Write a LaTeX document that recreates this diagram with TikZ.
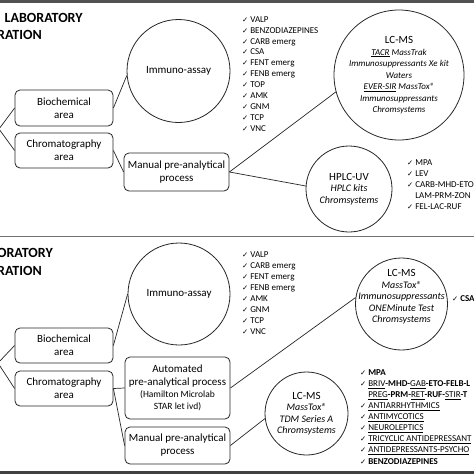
\documentclass[tikz,border=0pt]{standalone}
\usepackage{fontspec}
\setmainfont{Carlito}
\newfontfamily\symf{DejaVu Sans}
\newcommand\ck{{\symf\fontsize{7.3}{7}\selectfont ✓}\hspace{2pt}}
\newcommand\subf{\fontsize{9}{11.3}\selectfont\itshape}
\newcommand\subg{\fontsize{10}{11.3}\selectfont\itshape}
\begin{document}
\begin{tikzpicture}[x=1pt,y=-1pt,
 bx/.style={draw=black!85, rounded corners=5pt, line width=0.8pt, align=center, font=\fontsize{11}{13}\selectfont, inner sep=0pt},
 cir/.style={draw=black!85, circle, line width=0.8pt, align=center, inner sep=0pt, font=\fontsize{11}{13}\selectfont},
 lbl/.style={align=center, inner sep=0pt, font=\fontsize{11}{13}\selectfont},
 cn/.style={line width=0.7pt, draw=black!85},
 it/.style={anchor=west, inner sep=0pt, font=\fontsize{9}{10.9}\selectfont, text height=6pt, text depth=1.5pt},
 ttl/.style={font=\fontsize{14}{16}\selectfont\bfseries, inner sep=0pt, text height=9.5pt, text depth=0pt}
]
\useasboundingbox (0,0) rectangle (474,474);
\clip (0,0) rectangle (474,474);
\fill[white] (0,0) rectangle (474,474);
% frame bands
\fill[black!68] (0,0) rectangle (474,2.7);
\draw[black!55, line width=1pt] (0,236.5) -- (474,236.5);
\fill[black!75] (0,470.7) rectangle (474,474);

% ---------- top panel ----------
\node[ttl, anchor=west] (t1a) at (4.5,17.5) {LABORATORY};
\node[ttl, anchor=east] (t1b) at (42,35) {RATION};

\node[bx, minimum width=98pt, minimum height=36pt] (bio1) at (64,108) {Biochemical\\area};
\node[bx, minimum width=98pt, minimum height=35pt] (chr1) at (64,150.5) {Chromatography\\area};
\node[bx, minimum width=105pt, minimum height=38pt] (man1) at (176.5,172) {Manual pre-analytical\\process};

\node[cir, minimum size=103pt] (imm1) at (178.5,71) {Immuno-assay};
\node[cir, minimum size=130pt] (lcms1) at (399,75) {LC-MS\\[-1pt]
 {\subf\underline{TACR} MassTrak}\\[-1.5pt]
 {\subf Immunosuppressants Xe kit}\\[-1.5pt]
 {\subf Waters}\\[-1.5pt]
 {\subf\underline{EVER-SIR} MassTox®}\\[-1.5pt]
 {\subf Immunosuppressants}\\[-1.5pt]
 {\subf Chromsystems}};
\node[cir, minimum size=86pt] (hplc) at (349,189) {HPLC-UV\\[-1.5pt]
 {\subg HPLC kits}\\[-1.5pt]
 {\subg Chromsystems}};

\coordinate (L1) at (-1,129);
\draw[cn] (L1) -- (bio1.west);
\draw[cn] (L1) -- (chr1.west);
\draw[cn] (bio1.east) -- (imm1.185);
\draw[cn] (chr1.east) -- (man1.west);
\draw[cn] (man1.east) -- (lcms1.195);
\draw[cn] (man1.east) -- (hplc.176);

\node[it] (a1) at (242,20) {\ck VALP};
\node[it] (a2) at (242,30.9) {\ck BENZODIAZEPINES};
\node[it] (a3) at (242,41.8) {\ck CARB emerg};
\node[it] (a4) at (242,52.7) {\ck CSA};
\node[it] (a5) at (242,63.6) {\ck FENT emerg};
\node[it] (a6) at (242,74.5) {\ck FENB emerg};
\node[it] (a7) at (242,85.4) {\ck TOP};
\node[it] (a8) at (242,96.3) {\ck AMK};
\node[it] (a9) at (242,107.2) {\ck GNM};
\node[it] (a10) at (242,118.1) {\ck TCP};
\node[it] (a11) at (242,129) {\ck VNC};

\node[it] (h1) at (407,163) {\ck MPA};
\node[it] (h2) at (407,174) {\ck LEV};
\node[it] (h3) at (407,185) {\ck CARB-MHD-ETO};
\node[it] (h4) at (407,196.2) {\phantom{\ck}LAM-PRM-ZON};
\node[it] (h5) at (407,207.5) {\ck FEL-LAC-RUF};

% ---------- bottom panel ----------
\node[ttl, anchor=east] (t2a) at (53,252.5) {ORATORY};
\node[ttl, anchor=east] (t2b) at (42,270.5) {RATION};

\node[bx, minimum width=98pt, minimum height=35pt] (bio2) at (64,345.5) {Biochemical\\area};
\node[bx, minimum width=98pt, minimum height=35pt] (chr2) at (64,388.5) {Chromatography\\area};
\node[bx, minimum width=105pt, minimum height=62pt] (auto) at (177.5,388) {Automated\\pre-analytical process\\[-1pt]
 {\fontsize{9.5}{11}\selectfont (Hamilton Microlab}\\[-1.5pt]
 {\fontsize{9.5}{11}\selectfont STAR let ivd)}};
\node[bx, minimum width=105pt, minimum height=37pt] (man2) at (177.5,445.5) {Manual pre-analytical\\process};

\node[cir, minimum size=102pt] (imm2) at (179,294) {Immuno-assay};
\node[cir, minimum size=92pt] (lcms2) at (401.5,304) {};
\node[lbl] (lcms2t) at (401.5,297) {LC-MS\\[-1.5pt]
 {\subg MassTox®}\\[-1.5pt]
 {\subg Immunosuppressants}\\[-1.5pt]
 {\subg ONEMinute Test}\\[-1.5pt]
 {\subg Chromsystems}};
\node[cir, minimum size=83pt] (lcms3) at (306.5,413.5) {LC-MS\\[-1.5pt]
 {\subg MassTox®}\\[-1.5pt]
 {\subg TDM Series A}\\[-1.5pt]
 {\subg Chromsystems}};

\coordinate (L2) at (-2,363);
\draw[cn] (L2) -- (bio2.west);
\draw[cn] (L2) -- (chr2.west);
\draw[cn] (bio2.east) -- (imm2.west);
\draw[cn] (chr2.east) -- (auto.west);
\draw[cn] (chr2.east) -- (man2.west);
\draw[cn] (auto.east) -- (lcms2.172);
\draw[cn] (man2.east) -- (lcms3.187);

\node[it] (b1) at (242,255) {\ck VALP};
\node[it] (b2) at (242,266.1) {\ck CARB emerg};
\node[it] (b3) at (242,277.2) {\ck FENT emerg};
\node[it] (b4) at (242,288.3) {\ck FENB emerg};
\node[it] (b5) at (242,299.4) {\ck AMK};
\node[it] (b6) at (242,310.5) {\ck GNM};
\node[it] (b7) at (242,321.6) {\ck TCP};
\node[it] (b8) at (242,332.7) {\ck VNC};

\node[it] (c0) at (452,299.5) {\ck\textbf{CSA}};

\node[it] (d1) at (360,373) {\ck\textbf{MPA}};
\node[it] (d2) at (360,384.1) {\ck\underline{BRIV}\textbf{-MHD-}\underline{GAB}\textbf{-ETO-FELB-L}};
\node[it] (d3) at (360,395.2) {\phantom{\ck}\underline{PREG}\textbf{-PRM-}\underline{RET}\textbf{-RUF-}\underline{STIR}\textbf{-T}};
\node[it] (d4) at (360,406.3) {\ck\underline{ANTIARRHYTHMICS}};
\node[it] (d5) at (360,417.4) {\ck\underline{ANTIMYCOTICS}};
\node[it] (d6) at (360,428.5) {\ck\underline{NEUROLEPTICS}};
\node[it] (d7) at (360,439.6) {\ck\underline{TRICYCLIC ANTIDEPRESSANT}};
\node[it] (d8) at (360,450.7) {\ck\underline{ANTIDEPRESSANTS-PSYCHO}};
\node[it] (d9) at (360,461.8) {\ck\textbf{BENZODIAZEPINES}};
\end{tikzpicture}
\end{document}
